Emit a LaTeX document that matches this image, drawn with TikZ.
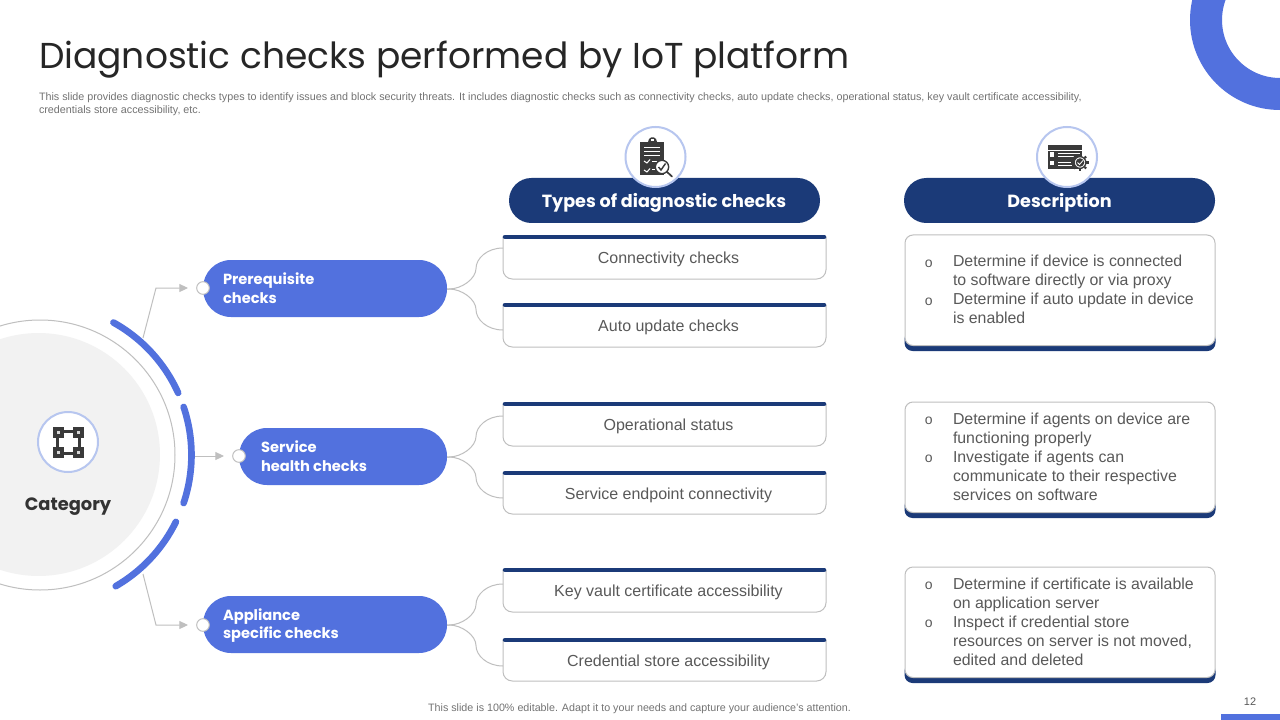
\documentclass[tikz,border=0pt]{standalone}
\usepackage{fontspec}
\setmainfont{Liberation Sans}
\newfontfamily\head{Poppins}
\usetikzlibrary{arrows.meta,calc}
\definecolor{bluefill}{HTML}{5271DE}
\definecolor{navy}{HTML}{1B3A78}
\definecolor{greyfill}{HTML}{F2F2F2}
\definecolor{greyline}{HTML}{BFBFBF}
\definecolor{bodytext}{HTML}{595959}
\definecolor{icondark}{HTML}{3A3A3A}
\definecolor{halo}{HTML}{B7C6EF}
\tikzset{
  x=0.75pt,y=-0.75pt,
  every node/.style={inner sep=0pt,outer sep=0pt},
  pillshape/.style={fill=bluefill,rounded corners=21pt},
  navypill/.style={fill=navy,rounded corners=16.8pt},
  pilltext/.style={anchor=west,align=left,text=white,font={\head\bfseries\fontsize{11pt}{14.2pt}\selectfont}},
  headtext/.style={text=white,font={\head\bfseries\fontsize{13.2pt}{16pt}\selectfont}},
  checktext/.style={text=bodytext,font={\fontsize{12pt}{14.25pt}\selectfont}},
  desctext/.style={anchor=west,align=left,text=bodytext,font={\fontsize{11.9pt}{14.25pt}\selectfont}},
  halocircle/.style={circle,draw=halo,line width=1.5pt,fill=white,minimum size=45pt},
  dotcircle/.style={circle,draw=greyline,line width=0.75pt,fill=white,minimum size=9.5pt},
  linkline/.style={draw=greyline,line width=0.75pt},
  arrowline/.style={draw=greyline,line width=0.75pt,-{Triangle[length=6.5pt,width=6pt]}},
  arcband/.style={draw=bluefill,line width=5pt,line cap=round},
  iconfill/.style={fill=icondark,draw=none},
  iconwhite/.style={draw=white,line width=0.75pt},
}
\newcommand{\checkcard}[5]{%
  \node[fill=white,minimum width={(826-503)*0.75pt},minimum height={(#3-#2)*0.75pt}] (#1) at (664.5,{(#2+#3)/2}) {};
  \draw[draw=greyline,line width=0.75pt,rounded corners=7pt] (#1.north west) -- (#1.south west) -- (#1.south east) -- (#1.north east);
  \draw[navy,line width=3.4pt,line cap=round] ([xshift=1.5pt]#1.north west) -- ([xshift=-1.5pt]#1.north east);
  \node[checktext] (#1t) at (668.5,#4) {#5};
}
\newcommand{\desccard}[3]{%
  \node[fill=navy,rounded corners=6pt,minimum width={(1215.5-904.5)*0.75pt},minimum height=15pt,anchor=south] (#1b) at (1060,#3) {};
  \node[fill=white,draw=greyline,line width=0.75pt,rounded corners=6pt,minimum width={(1215-905)*0.75pt},minimum height={(#3-5.5-#2)*0.75pt},anchor=south] (#1) at (1060,#3-5.5) {};
}
\newcommand{\blt}{\makebox[18.75pt][l]{\hspace{-2.3pt}\fontsize{10.5pt}{10pt}\selectfont\raisebox{-0.5pt}{o}}}
\newcommand{\ind}{\hspace*{18.75pt}}
\begin{document}
\begin{tikzpicture}
\clip (0,0) rectangle (1280,720);
\useasboundingbox (0,0) rectangle (1280,720);
\fill[white] (0,0) rectangle (1280,720);

% top-right ring
\coordinate (ringc) at (1280,20);
\draw[bluefill,line width=24pt] (ringc) circle[radius=55.5pt];
\fill[bluefill] (1221,714) rectangle (1280,720);

% title
\node[anchor=base west,text=black!85,font={\head\fontsize{27pt}{32pt}\selectfont}] (title) at (39,69) {Diagnostic checks performed by IoT platform};
\node[anchor=north west,align=left,text=black!55,font={\fontsize{8.07pt}{9.6pt}\selectfont}] (sub) at (39,92.5) {This slide provides diagnostic checks types to identify issues and block security threats. It includes diagnostic checks such as connectivity checks, auto update checks, operational status, key vault certificate accessibility,\\credentials store accessibility, etc.};

% left circles
\coordinate (hub) at (40,455);
\node[circle,draw=greyline,line width=0.75pt,fill=white,minimum size=202.5pt] (outer) at (hub) {};
\node[circle,fill=greyfill,minimum size=182.2pt] (inner) at (38.5,454.5) {};

\node[pillshape,minimum width={(447-203)*0.75pt},minimum height={57*0.75pt}] (p1) at (325,288.5) {};
\node[pillshape,minimum width={(447-239)*0.75pt},minimum height={57*0.75pt}] (p2) at (343,456.5) {};
\node[pillshape,minimum width={(447-203)*0.75pt},minimum height={57*0.75pt}] (p3) at (325,624.5) {};
\node[dotcircle] (d1) at (203,288) {};
\node[dotcircle] (d2) at (239,456) {};
\node[dotcircle] (d3) at (203,625) {};
\node[pilltext] (p1t) at (223,288.5) {Prerequisite\\checks};
\node[pilltext] (p2t) at (261,456.5) {Service\\health checks};
\node[pilltext] (p3t) at (223,625.5) {Appliance\\[-0.75pt]specific checks};

% hub connectors
\coordinate (o1) at (143,338);
\coordinate (o2) at (194,456);
\coordinate (o3) at (143,574);
\draw[arrowline] (o1) -- (156,288) -- ([xshift=-6.5pt]d1.west);
\draw[arrowline] (o2) -- ([xshift=-6.5pt]d2.west);
\draw[arrowline] (o3) -- (156,625) -- ([xshift=-6.5pt]d3.west);

% arcs
\draw[arcband] (hub) ++(61:113.6pt) arc[start angle=61,end angle=24.2,radius=113.6pt];
\draw[arcband] (hub) ++(18.5:113.6pt) arc[start angle=18.5,end angle=-18.5,radius=113.6pt];
\draw[arcband] (hub) ++(-26.2:113.6pt) arc[start angle=-26.2,end angle=-60,radius=113.6pt];

% category
\node[halocircle] (ic0) at (68,442) {};
\node[font={\head\bfseries\fontsize{13.4pt}{16pt}\selectfont},text=black!80] (cat) at (68,507) {Category};
\draw[icondark,line width=2.4pt] (57.5,431.5) rectangle (79.5,453.5);
\foreach \a/\b in {53/427,73/427,53/447,73/447}{
  \fill[icondark] (\a,\b) rectangle ++(11,11);
  \fill[white!85!black] (\a+4,\b+4) rectangle ++(3,3);
}

% header pills
\node[navypill,minimum width={(820-509)*0.75pt},minimum height={45*0.75pt}] (h1) at (664.5,200.5) {};
\node[navypill,minimum width={(1215-904)*0.75pt},minimum height={45*0.75pt}] (h2) at (1059.5,200.5) {};
\node[headtext] (h1t) at (664,202.5) {Types of diagnostic checks};
\node[headtext] (h2t) at (1059.5,202.5) {Description};
\node[halocircle] (ic1) at (655.5,157) {};
\node[halocircle] (ic2) at (1067,157) {};

% clipboard icon
\fill[icondark] (640,142) rectangle (664,175);
\fill[icondark] (648,142) -- (649,139) -- (651,137.5) -- (654,137.5) -- (656,139) -- (657,142) -- cycle;
\fill[white] (651.2,139) rectangle (653.8,141);
\foreach \yy in {148,152,156}{\draw[iconwhite] (644,\yy) -- (660,\yy);}
\draw[iconwhite] (644,161) -- (647,163) -- (650,159.5);
\draw[iconwhite] (644,170) -- (647,172) -- (650,168.5);
\draw[iconwhite] (652,162) -- (657,162);
\draw[iconwhite] (652,170) -- (656,170);
\draw[icondark,line width=1.3pt,line cap=round] (666,171) -- (672,176.5);
\draw[icondark,line width=1pt,fill=white] (662,167) circle[radius=5pt];
\draw[icondark,line width=1.1pt] (658.5,167) -- (661,170) -- (665.5,163.5);

% settings list icon
\fill[icondark] (1048,145) rectangle (1082,169);
\draw[white,line width=0.75pt] (1048,150.5) -- (1082,150.5);
\fill[white] (1049.5,152.5) rectangle (1054,157);
\fill[white] (1049.5,161) rectangle (1054,165.5);
\draw[iconwhite] (1058,154) -- (1080,154);
\draw[iconwhite] (1058,157) -- (1074,157);
\draw[iconwhite] (1058,163) -- (1074,163);
\draw[iconwhite] (1058,166) -- (1072,166);
\foreach \ang in {0,45,...,315}{\draw[icondark,line width=1.6pt] (1080,162.5) ++(\ang:4.8pt) -- ++(\ang:1.6pt);}
\draw[icondark,line width=1pt,fill=white] (1080,162.5) circle[radius=4.4pt];
\fill[icondark] (1080,162.5) circle[radius=3.2pt];
\draw[white,line width=0.6pt] (1077.5,162.5) -- (1079.5,164.5) -- (1083,160.5);

% check cards
\checkcard{c1}{237}{279}{259.5}{Connectivity checks}
\checkcard{c2}{305}{347}{327.5}{Auto update checks}
\checkcard{c3}{404}{446}{426.5}{Operational status}
\checkcard{c4}{473}{514}{495.5}{Service endpoint connectivity}
\checkcard{c5}{570}{612}{592.5}{Key vault certificate accessibility}
\checkcard{c6}{640}{681}{662.5}{Credential store accessibility}

% branch curves
\foreach \p/\sy/\t/\ty in {p1/289/c1/248,p1/289/c2/330,p2/457/c3/416,p2/457/c4/498,p3/625/c5/584,p3/625/c6/666}{
  \pgfmathsetmacro{\my}{(\sy+\ty)/2}
  \pgfmathsetmacro{\sg}{(\ty>\sy)?1:-1}
  \draw[linkline] (\p.east |- 0,\sy) -- ++(2,0) .. controls (462,\sy) and (476,{\my-10*\sg}) .. (476,\my) .. controls (476,{\my+10*\sg}) and (487,\ty) .. (\t.west |- 0,\ty);
}

% description cards
\desccard{e1}{235}{351}
\node[desctext] (e1t) at (928,289.5) {\blt Determine if device is connected\\\ind to software directly or via proxy\\\blt Determine if auto update in device\\\ind is enabled};
\desccard{e2}{402}{518}
\node[desctext] (e2t) at (928,456.5) {\blt Determine if agents on device are\\\ind functioning properly\\\blt Investigate if agents can\\\ind communicate to their respective\\\ind services on software};
\desccard{e3}{567}{683}
\node[desctext] (e3t) at (928,621.5) {\blt Determine if certificate is available\\\ind on application server\\\blt Inspect if credential store\\\ind resources on server is not moved,\\\ind edited and deleted};

% footer
\node[text=black!55,font={\fontsize{8.04pt}{9pt}\selectfont}] (foot) at (639.5,708.5) {This slide is 100\% editable. Adapt it to your needs and capture your audience's attention.};
\node[text=bodytext,font={\fontsize{8.2pt}{10pt}\selectfont}] (pg) at (1250,702) {12};
\end{tikzpicture}
\end{document}
